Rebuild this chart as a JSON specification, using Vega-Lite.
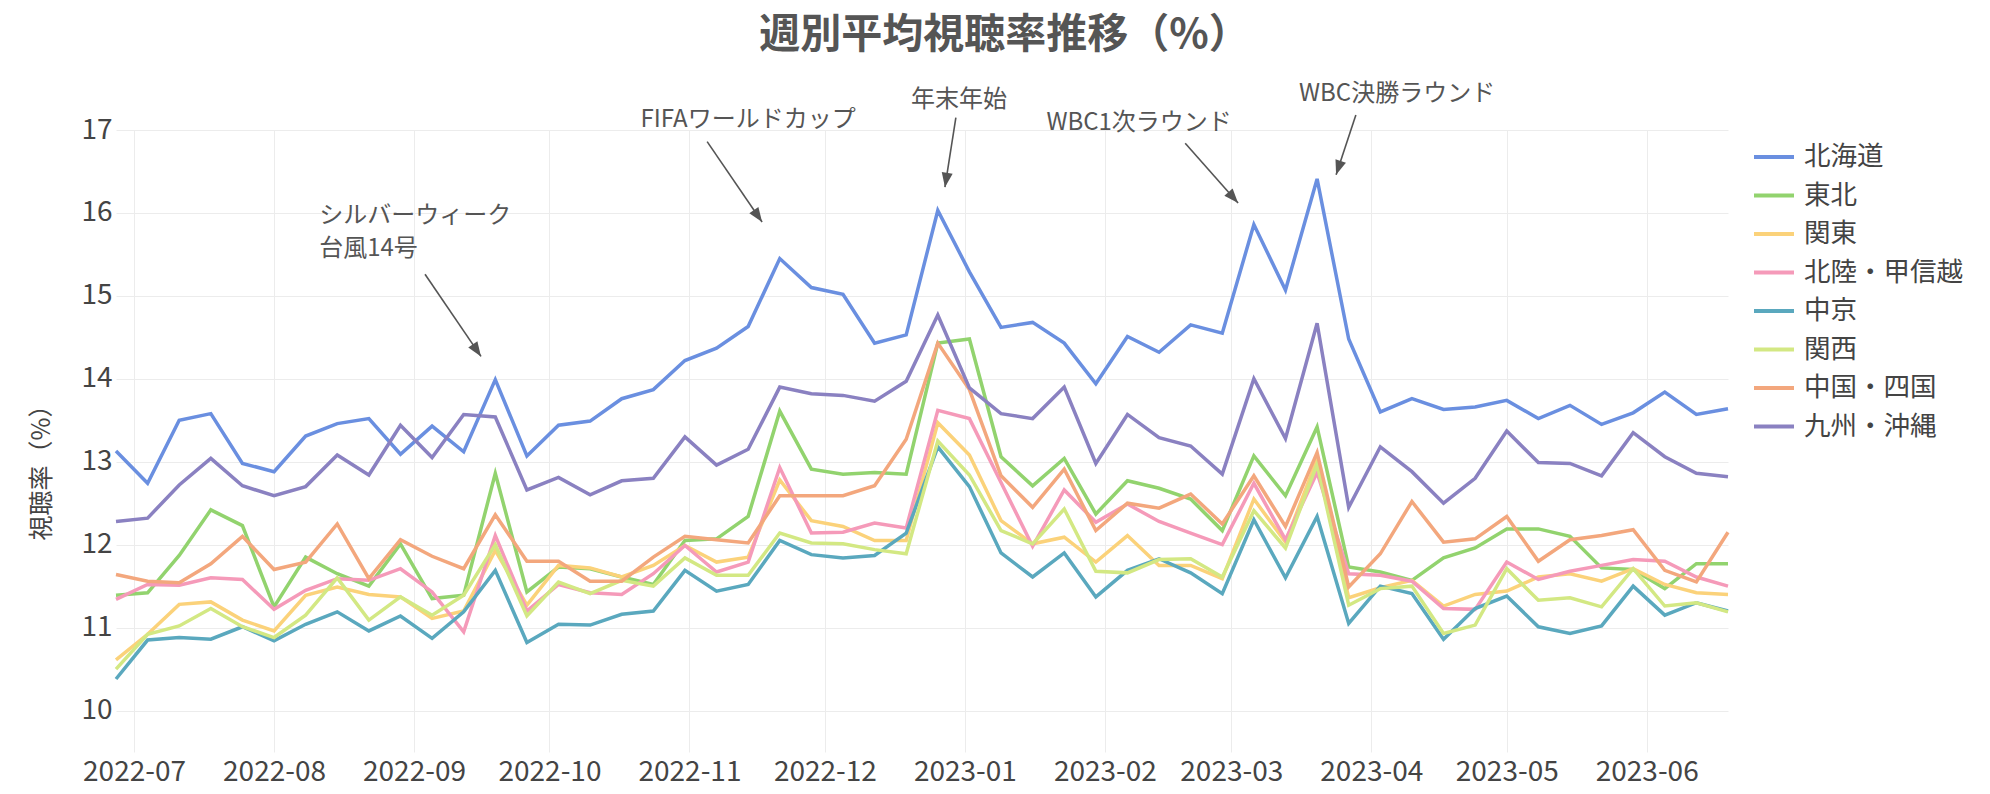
{
  "$schema": "https://vega.github.io/schema/vega-lite/v6.json",
  "autosize": {"type": "none"},
  "padding": {"left": 116, "top": 130, "right": 262, "bottom": 42},
  "width": 1612,
  "height": 622,
  "title": {
    "text": "週別平均視聴率推移（%）",
    "fontSize": 41,
    "fontWeight": "bold",
    "color": "#555555",
    "anchor": "middle",
    "frame": "bounds",
    "offset": 25,
    "dx": 8
  },
  "datasets": {
    "ratings": [
      {"week": "2022-06-27", "region": "北海道", "rating": 13.13},
      {"week": "2022-07-04", "region": "北海道", "rating": 12.74},
      {"week": "2022-07-11", "region": "北海道", "rating": 13.5},
      {"week": "2022-07-18", "region": "北海道", "rating": 13.58},
      {"week": "2022-07-25", "region": "北海道", "rating": 12.98},
      {"week": "2022-08-01", "region": "北海道", "rating": 12.88},
      {"week": "2022-08-08", "region": "北海道", "rating": 13.31},
      {"week": "2022-08-15", "region": "北海道", "rating": 13.46},
      {"week": "2022-08-22", "region": "北海道", "rating": 13.52},
      {"week": "2022-08-29", "region": "北海道", "rating": 13.09},
      {"week": "2022-09-05", "region": "北海道", "rating": 13.43},
      {"week": "2022-09-12", "region": "北海道", "rating": 13.12},
      {"week": "2022-09-19", "region": "北海道", "rating": 13.99},
      {"week": "2022-09-26", "region": "北海道", "rating": 13.07},
      {"week": "2022-10-03", "region": "北海道", "rating": 13.44},
      {"week": "2022-10-10", "region": "北海道", "rating": 13.49},
      {"week": "2022-10-17", "region": "北海道", "rating": 13.76},
      {"week": "2022-10-24", "region": "北海道", "rating": 13.87},
      {"week": "2022-10-31", "region": "北海道", "rating": 14.22},
      {"week": "2022-11-07", "region": "北海道", "rating": 14.37},
      {"week": "2022-11-14", "region": "北海道", "rating": 14.63},
      {"week": "2022-11-21", "region": "北海道", "rating": 15.45},
      {"week": "2022-11-28", "region": "北海道", "rating": 15.1},
      {"week": "2022-12-05", "region": "北海道", "rating": 15.02},
      {"week": "2022-12-12", "region": "北海道", "rating": 14.43},
      {"week": "2022-12-19", "region": "北海道", "rating": 14.53},
      {"week": "2022-12-26", "region": "北海道", "rating": 16.03},
      {"week": "2023-01-02", "region": "北海道", "rating": 15.29},
      {"week": "2023-01-09", "region": "北海道", "rating": 14.62},
      {"week": "2023-01-16", "region": "北海道", "rating": 14.68},
      {"week": "2023-01-23", "region": "北海道", "rating": 14.43},
      {"week": "2023-01-30", "region": "北海道", "rating": 13.94},
      {"week": "2023-02-06", "region": "北海道", "rating": 14.51},
      {"week": "2023-02-13", "region": "北海道", "rating": 14.32},
      {"week": "2023-02-20", "region": "北海道", "rating": 14.65},
      {"week": "2023-02-27", "region": "北海道", "rating": 14.55},
      {"week": "2023-03-06", "region": "北海道", "rating": 15.86},
      {"week": "2023-03-13", "region": "北海道", "rating": 15.07},
      {"week": "2023-03-20", "region": "北海道", "rating": 16.41},
      {"week": "2023-03-27", "region": "北海道", "rating": 14.48},
      {"week": "2023-04-03", "region": "北海道", "rating": 13.6},
      {"week": "2023-04-10", "region": "北海道", "rating": 13.76},
      {"week": "2023-04-17", "region": "北海道", "rating": 13.63},
      {"week": "2023-04-24", "region": "北海道", "rating": 13.66},
      {"week": "2023-05-01", "region": "北海道", "rating": 13.74},
      {"week": "2023-05-08", "region": "北海道", "rating": 13.52},
      {"week": "2023-05-15", "region": "北海道", "rating": 13.68},
      {"week": "2023-05-22", "region": "北海道", "rating": 13.45},
      {"week": "2023-05-29", "region": "北海道", "rating": 13.59},
      {"week": "2023-06-05", "region": "北海道", "rating": 13.84},
      {"week": "2023-06-12", "region": "北海道", "rating": 13.57},
      {"week": "2023-06-19", "region": "北海道", "rating": 13.64},

      {"week": "2022-06-27", "region": "東北", "rating": 11.39},
      {"week": "2022-07-04", "region": "東北", "rating": 11.42},
      {"week": "2022-07-11", "region": "東北", "rating": 11.87},
      {"week": "2022-07-18", "region": "東北", "rating": 12.42},
      {"week": "2022-07-25", "region": "東北", "rating": 12.23},
      {"week": "2022-08-01", "region": "東北", "rating": 11.25},
      {"week": "2022-08-08", "region": "東北", "rating": 11.85},
      {"week": "2022-08-15", "region": "東北", "rating": 11.65},
      {"week": "2022-08-22", "region": "東北", "rating": 11.5},
      {"week": "2022-08-29", "region": "東北", "rating": 12.01},
      {"week": "2022-09-05", "region": "東北", "rating": 11.35},
      {"week": "2022-09-12", "region": "東北", "rating": 11.39},
      {"week": "2022-09-19", "region": "東北", "rating": 12.86},
      {"week": "2022-09-26", "region": "東北", "rating": 11.43},
      {"week": "2022-10-03", "region": "東北", "rating": 11.73},
      {"week": "2022-10-10", "region": "東北", "rating": 11.71},
      {"week": "2022-10-17", "region": "東北", "rating": 11.61},
      {"week": "2022-10-24", "region": "東北", "rating": 11.52},
      {"week": "2022-10-31", "region": "東北", "rating": 12.05},
      {"week": "2022-11-07", "region": "東北", "rating": 12.07},
      {"week": "2022-11-14", "region": "東北", "rating": 12.34},
      {"week": "2022-11-21", "region": "東北", "rating": 13.61},
      {"week": "2022-11-28", "region": "東北", "rating": 12.91},
      {"week": "2022-12-05", "region": "東北", "rating": 12.85},
      {"week": "2022-12-12", "region": "東北", "rating": 12.87},
      {"week": "2022-12-19", "region": "東北", "rating": 12.85},
      {"week": "2022-12-26", "region": "東北", "rating": 14.43},
      {"week": "2023-01-02", "region": "東北", "rating": 14.48},
      {"week": "2023-01-09", "region": "東北", "rating": 13.06},
      {"week": "2023-01-16", "region": "東北", "rating": 12.71},
      {"week": "2023-01-23", "region": "東北", "rating": 13.04},
      {"week": "2023-01-30", "region": "東北", "rating": 12.37},
      {"week": "2023-02-06", "region": "東北", "rating": 12.77},
      {"week": "2023-02-13", "region": "東北", "rating": 12.68},
      {"week": "2023-02-20", "region": "東北", "rating": 12.55},
      {"week": "2023-02-27", "region": "東北", "rating": 12.17},
      {"week": "2023-03-06", "region": "東北", "rating": 13.07},
      {"week": "2023-03-13", "region": "東北", "rating": 12.59},
      {"week": "2023-03-20", "region": "東北", "rating": 13.42},
      {"week": "2023-03-27", "region": "東北", "rating": 11.73},
      {"week": "2023-04-03", "region": "東北", "rating": 11.67},
      {"week": "2023-04-10", "region": "東北", "rating": 11.57},
      {"week": "2023-04-17", "region": "東北", "rating": 11.84},
      {"week": "2023-04-24", "region": "東北", "rating": 11.96},
      {"week": "2023-05-01", "region": "東北", "rating": 12.19},
      {"week": "2023-05-08", "region": "東北", "rating": 12.19},
      {"week": "2023-05-15", "region": "東北", "rating": 12.1},
      {"week": "2023-05-22", "region": "東北", "rating": 11.72},
      {"week": "2023-05-29", "region": "東北", "rating": 11.7},
      {"week": "2023-06-05", "region": "東北", "rating": 11.47},
      {"week": "2023-06-12", "region": "東北", "rating": 11.77},
      {"week": "2023-06-19", "region": "東北", "rating": 11.77},

      {"week": "2022-06-27", "region": "関東", "rating": 10.61},
      {"week": "2022-07-04", "region": "関東", "rating": 10.92},
      {"week": "2022-07-11", "region": "関東", "rating": 11.28},
      {"week": "2022-07-18", "region": "関東", "rating": 11.31},
      {"week": "2022-07-25", "region": "関東", "rating": 11.09},
      {"week": "2022-08-01", "region": "関東", "rating": 10.96},
      {"week": "2022-08-08", "region": "関東", "rating": 11.39},
      {"week": "2022-08-15", "region": "関東", "rating": 11.49},
      {"week": "2022-08-22", "region": "関東", "rating": 11.4},
      {"week": "2022-08-29", "region": "関東", "rating": 11.37},
      {"week": "2022-09-05", "region": "関東", "rating": 11.11},
      {"week": "2022-09-12", "region": "関東", "rating": 11.2},
      {"week": "2022-09-19", "region": "関東", "rating": 11.93},
      {"week": "2022-09-26", "region": "関東", "rating": 11.27},
      {"week": "2022-10-03", "region": "関東", "rating": 11.75},
      {"week": "2022-10-10", "region": "関東", "rating": 11.72},
      {"week": "2022-10-17", "region": "関東", "rating": 11.61},
      {"week": "2022-10-24", "region": "関東", "rating": 11.75},
      {"week": "2022-10-31", "region": "関東", "rating": 11.99},
      {"week": "2022-11-07", "region": "関東", "rating": 11.79},
      {"week": "2022-11-14", "region": "関東", "rating": 11.85},
      {"week": "2022-11-21", "region": "関東", "rating": 12.78},
      {"week": "2022-11-28", "region": "関東", "rating": 12.29},
      {"week": "2022-12-05", "region": "関東", "rating": 12.22},
      {"week": "2022-12-12", "region": "関東", "rating": 12.05},
      {"week": "2022-12-19", "region": "関東", "rating": 12.05},
      {"week": "2022-12-26", "region": "関東", "rating": 13.47},
      {"week": "2023-01-02", "region": "関東", "rating": 13.08},
      {"week": "2023-01-09", "region": "関東", "rating": 12.29},
      {"week": "2023-01-16", "region": "関東", "rating": 12.01},
      {"week": "2023-01-23", "region": "関東", "rating": 12.09},
      {"week": "2023-01-30", "region": "関東", "rating": 11.79},
      {"week": "2023-02-06", "region": "関東", "rating": 12.11},
      {"week": "2023-02-13", "region": "関東", "rating": 11.75},
      {"week": "2023-02-20", "region": "関東", "rating": 11.75},
      {"week": "2023-02-27", "region": "関東", "rating": 11.59},
      {"week": "2023-03-06", "region": "関東", "rating": 12.55},
      {"week": "2023-03-13", "region": "関東", "rating": 12.03},
      {"week": "2023-03-20", "region": "関東", "rating": 13.03},
      {"week": "2023-03-27", "region": "関東", "rating": 11.36},
      {"week": "2023-04-03", "region": "関東", "rating": 11.48},
      {"week": "2023-04-10", "region": "関東", "rating": 11.57},
      {"week": "2023-04-17", "region": "関東", "rating": 11.26},
      {"week": "2023-04-24", "region": "関東", "rating": 11.4},
      {"week": "2023-05-01", "region": "関東", "rating": 11.44},
      {"week": "2023-05-08", "region": "関東", "rating": 11.61},
      {"week": "2023-05-15", "region": "関東", "rating": 11.65},
      {"week": "2023-05-22", "region": "関東", "rating": 11.56},
      {"week": "2023-05-29", "region": "関東", "rating": 11.71},
      {"week": "2023-06-05", "region": "関東", "rating": 11.52},
      {"week": "2023-06-12", "region": "関東", "rating": 11.42},
      {"week": "2023-06-19", "region": "関東", "rating": 11.4},

      {"week": "2022-06-27", "region": "北陸・甲信越", "rating": 11.34},
      {"week": "2022-07-04", "region": "北陸・甲信越", "rating": 11.52},
      {"week": "2022-07-11", "region": "北陸・甲信越", "rating": 11.51},
      {"week": "2022-07-18", "region": "北陸・甲信越", "rating": 11.6},
      {"week": "2022-07-25", "region": "北陸・甲信越", "rating": 11.58},
      {"week": "2022-08-01", "region": "北陸・甲信越", "rating": 11.22},
      {"week": "2022-08-08", "region": "北陸・甲信越", "rating": 11.45},
      {"week": "2022-08-15", "region": "北陸・甲信越", "rating": 11.59},
      {"week": "2022-08-22", "region": "北陸・甲信越", "rating": 11.57},
      {"week": "2022-08-29", "region": "北陸・甲信越", "rating": 11.71},
      {"week": "2022-09-05", "region": "北陸・甲信越", "rating": 11.43},
      {"week": "2022-09-12", "region": "北陸・甲信越", "rating": 10.95},
      {"week": "2022-09-19", "region": "北陸・甲信越", "rating": 12.11},
      {"week": "2022-09-26", "region": "北陸・甲信越", "rating": 11.2},
      {"week": "2022-10-03", "region": "北陸・甲信越", "rating": 11.52},
      {"week": "2022-10-10", "region": "北陸・甲信越", "rating": 11.42},
      {"week": "2022-10-17", "region": "北陸・甲信越", "rating": 11.4},
      {"week": "2022-10-24", "region": "北陸・甲信越", "rating": 11.65},
      {"week": "2022-10-31", "region": "北陸・甲信越", "rating": 11.99},
      {"week": "2022-11-07", "region": "北陸・甲信越", "rating": 11.67},
      {"week": "2022-11-14", "region": "北陸・甲信越", "rating": 11.79},
      {"week": "2022-11-21", "region": "北陸・甲信越", "rating": 12.93},
      {"week": "2022-11-28", "region": "北陸・甲信越", "rating": 12.14},
      {"week": "2022-12-05", "region": "北陸・甲信越", "rating": 12.15},
      {"week": "2022-12-12", "region": "北陸・甲信越", "rating": 12.26},
      {"week": "2022-12-19", "region": "北陸・甲信越", "rating": 12.2},
      {"week": "2022-12-26", "region": "北陸・甲信越", "rating": 13.62},
      {"week": "2023-01-02", "region": "北陸・甲信越", "rating": 13.52},
      {"week": "2023-01-09", "region": "北陸・甲信越", "rating": 12.75},
      {"week": "2023-01-16", "region": "北陸・甲信越", "rating": 11.98},
      {"week": "2023-01-23", "region": "北陸・甲信越", "rating": 12.66},
      {"week": "2023-01-30", "region": "北陸・甲信越", "rating": 12.27},
      {"week": "2023-02-06", "region": "北陸・甲信越", "rating": 12.49},
      {"week": "2023-02-13", "region": "北陸・甲信越", "rating": 12.28},
      {"week": "2023-02-20", "region": "北陸・甲信越", "rating": 12.14},
      {"week": "2023-02-27", "region": "北陸・甲信越", "rating": 12.0},
      {"week": "2023-03-06", "region": "北陸・甲信越", "rating": 12.74},
      {"week": "2023-03-13", "region": "北陸・甲信越", "rating": 12.06},
      {"week": "2023-03-20", "region": "北陸・甲信越", "rating": 12.87},
      {"week": "2023-03-27", "region": "北陸・甲信越", "rating": 11.65},
      {"week": "2023-04-03", "region": "北陸・甲信越", "rating": 11.63},
      {"week": "2023-04-10", "region": "北陸・甲信越", "rating": 11.56},
      {"week": "2023-04-17", "region": "北陸・甲信越", "rating": 11.23},
      {"week": "2023-04-24", "region": "北陸・甲信越", "rating": 11.22},
      {"week": "2023-05-01", "region": "北陸・甲信越", "rating": 11.79},
      {"week": "2023-05-08", "region": "北陸・甲信越", "rating": 11.58},
      {"week": "2023-05-15", "region": "北陸・甲信越", "rating": 11.68},
      {"week": "2023-05-22", "region": "北陸・甲信越", "rating": 11.75},
      {"week": "2023-05-29", "region": "北陸・甲信越", "rating": 11.82},
      {"week": "2023-06-05", "region": "北陸・甲信越", "rating": 11.8},
      {"week": "2023-06-12", "region": "北陸・甲信越", "rating": 11.61},
      {"week": "2023-06-19", "region": "北陸・甲信越", "rating": 11.5},

      {"week": "2022-06-27", "region": "中京", "rating": 10.38},
      {"week": "2022-07-04", "region": "中京", "rating": 10.85},
      {"week": "2022-07-11", "region": "中京", "rating": 10.88},
      {"week": "2022-07-18", "region": "中京", "rating": 10.86},
      {"week": "2022-07-25", "region": "中京", "rating": 11.01},
      {"week": "2022-08-01", "region": "中京", "rating": 10.84},
      {"week": "2022-08-08", "region": "中京", "rating": 11.04},
      {"week": "2022-08-15", "region": "中京", "rating": 11.19},
      {"week": "2022-08-22", "region": "中京", "rating": 10.96},
      {"week": "2022-08-29", "region": "中京", "rating": 11.14},
      {"week": "2022-09-05", "region": "中京", "rating": 10.87},
      {"week": "2022-09-12", "region": "中京", "rating": 11.19},
      {"week": "2022-09-19", "region": "中京", "rating": 11.69},
      {"week": "2022-09-26", "region": "中京", "rating": 10.82},
      {"week": "2022-10-03", "region": "中京", "rating": 11.04},
      {"week": "2022-10-10", "region": "中京", "rating": 11.03},
      {"week": "2022-10-17", "region": "中京", "rating": 11.16},
      {"week": "2022-10-24", "region": "中京", "rating": 11.2},
      {"week": "2022-10-31", "region": "中京", "rating": 11.69},
      {"week": "2022-11-07", "region": "中京", "rating": 11.44},
      {"week": "2022-11-14", "region": "中京", "rating": 11.52},
      {"week": "2022-11-21", "region": "中京", "rating": 12.05},
      {"week": "2022-11-28", "region": "中京", "rating": 11.88},
      {"week": "2022-12-05", "region": "中京", "rating": 11.84},
      {"week": "2022-12-12", "region": "中京", "rating": 11.87},
      {"week": "2022-12-19", "region": "中京", "rating": 12.14},
      {"week": "2022-12-26", "region": "中京", "rating": 13.18},
      {"week": "2023-01-02", "region": "中京", "rating": 12.7},
      {"week": "2023-01-09", "region": "中京", "rating": 11.9},
      {"week": "2023-01-16", "region": "中京", "rating": 11.61},
      {"week": "2023-01-23", "region": "中京", "rating": 11.9},
      {"week": "2023-01-30", "region": "中京", "rating": 11.37},
      {"week": "2023-02-06", "region": "中京", "rating": 11.69},
      {"week": "2023-02-13", "region": "中京", "rating": 11.83},
      {"week": "2023-02-20", "region": "中京", "rating": 11.66},
      {"week": "2023-02-27", "region": "中京", "rating": 11.41},
      {"week": "2023-03-06", "region": "中京", "rating": 12.3},
      {"week": "2023-03-13", "region": "中京", "rating": 11.6},
      {"week": "2023-03-20", "region": "中京", "rating": 12.34},
      {"week": "2023-03-27", "region": "中京", "rating": 11.05},
      {"week": "2023-04-03", "region": "中京", "rating": 11.5},
      {"week": "2023-04-10", "region": "中京", "rating": 11.41},
      {"week": "2023-04-17", "region": "中京", "rating": 10.86},
      {"week": "2023-04-24", "region": "中京", "rating": 11.23},
      {"week": "2023-05-01", "region": "中京", "rating": 11.38},
      {"week": "2023-05-08", "region": "中京", "rating": 11.01},
      {"week": "2023-05-15", "region": "中京", "rating": 10.93},
      {"week": "2023-05-22", "region": "中京", "rating": 11.02},
      {"week": "2023-05-29", "region": "中京", "rating": 11.5},
      {"week": "2023-06-05", "region": "中京", "rating": 11.15},
      {"week": "2023-06-12", "region": "中京", "rating": 11.3},
      {"week": "2023-06-19", "region": "中京", "rating": 11.2},

      {"week": "2022-06-27", "region": "関西", "rating": 10.5},
      {"week": "2022-07-04", "region": "関西", "rating": 10.92},
      {"week": "2022-07-11", "region": "関西", "rating": 11.02},
      {"week": "2022-07-18", "region": "関西", "rating": 11.23},
      {"week": "2022-07-25", "region": "関西", "rating": 11.01},
      {"week": "2022-08-01", "region": "関西", "rating": 10.88},
      {"week": "2022-08-08", "region": "関西", "rating": 11.15},
      {"week": "2022-08-15", "region": "関西", "rating": 11.6},
      {"week": "2022-08-22", "region": "関西", "rating": 11.09},
      {"week": "2022-08-29", "region": "関西", "rating": 11.37},
      {"week": "2022-09-05", "region": "関西", "rating": 11.15},
      {"week": "2022-09-12", "region": "関西", "rating": 11.39},
      {"week": "2022-09-19", "region": "関西", "rating": 12.0},
      {"week": "2022-09-26", "region": "関西", "rating": 11.14},
      {"week": "2022-10-03", "region": "関西", "rating": 11.55},
      {"week": "2022-10-10", "region": "関西", "rating": 11.41},
      {"week": "2022-10-17", "region": "関西", "rating": 11.57},
      {"week": "2022-10-24", "region": "関西", "rating": 11.5},
      {"week": "2022-10-31", "region": "関西", "rating": 11.84},
      {"week": "2022-11-07", "region": "関西", "rating": 11.63},
      {"week": "2022-11-14", "region": "関西", "rating": 11.63},
      {"week": "2022-11-21", "region": "関西", "rating": 12.14},
      {"week": "2022-11-28", "region": "関西", "rating": 12.02},
      {"week": "2022-12-05", "region": "関西", "rating": 12.01},
      {"week": "2022-12-12", "region": "関西", "rating": 11.94},
      {"week": "2022-12-19", "region": "関西", "rating": 11.89},
      {"week": "2022-12-26", "region": "関西", "rating": 13.25},
      {"week": "2023-01-02", "region": "関西", "rating": 12.84},
      {"week": "2023-01-09", "region": "関西", "rating": 12.17},
      {"week": "2023-01-16", "region": "関西", "rating": 12.01},
      {"week": "2023-01-23", "region": "関西", "rating": 12.43},
      {"week": "2023-01-30", "region": "関西", "rating": 11.68},
      {"week": "2023-02-06", "region": "関西", "rating": 11.66},
      {"week": "2023-02-13", "region": "関西", "rating": 11.82},
      {"week": "2023-02-20", "region": "関西", "rating": 11.83},
      {"week": "2023-02-27", "region": "関西", "rating": 11.61},
      {"week": "2023-03-06", "region": "関西", "rating": 12.41},
      {"week": "2023-03-13", "region": "関西", "rating": 11.96},
      {"week": "2023-03-20", "region": "関西", "rating": 12.97},
      {"week": "2023-03-27", "region": "関西", "rating": 11.27},
      {"week": "2023-04-03", "region": "関西", "rating": 11.47},
      {"week": "2023-04-10", "region": "関西", "rating": 11.5},
      {"week": "2023-04-17", "region": "関西", "rating": 10.93},
      {"week": "2023-04-24", "region": "関西", "rating": 11.03},
      {"week": "2023-05-01", "region": "関西", "rating": 11.71},
      {"week": "2023-05-08", "region": "関西", "rating": 11.33},
      {"week": "2023-05-15", "region": "関西", "rating": 11.36},
      {"week": "2023-05-22", "region": "関西", "rating": 11.25},
      {"week": "2023-05-29", "region": "関西", "rating": 11.71},
      {"week": "2023-06-05", "region": "関西", "rating": 11.26},
      {"week": "2023-06-12", "region": "関西", "rating": 11.3},
      {"week": "2023-06-19", "region": "関西", "rating": 11.19},

      {"week": "2022-06-27", "region": "中国・四国", "rating": 11.64},
      {"week": "2022-07-04", "region": "中国・四国", "rating": 11.56},
      {"week": "2022-07-11", "region": "中国・四国", "rating": 11.54},
      {"week": "2022-07-18", "region": "中国・四国", "rating": 11.77},
      {"week": "2022-07-25", "region": "中国・四国", "rating": 12.1},
      {"week": "2022-08-01", "region": "中国・四国", "rating": 11.7},
      {"week": "2022-08-08", "region": "中国・四国", "rating": 11.79},
      {"week": "2022-08-15", "region": "中国・四国", "rating": 12.25},
      {"week": "2022-08-22", "region": "中国・四国", "rating": 11.59},
      {"week": "2022-08-29", "region": "中国・四国", "rating": 12.06},
      {"week": "2022-09-05", "region": "中国・四国", "rating": 11.86},
      {"week": "2022-09-12", "region": "中国・四国", "rating": 11.71},
      {"week": "2022-09-19", "region": "中国・四国", "rating": 12.36},
      {"week": "2022-09-26", "region": "中国・四国", "rating": 11.8},
      {"week": "2022-10-03", "region": "中国・四国", "rating": 11.8},
      {"week": "2022-10-10", "region": "中国・四国", "rating": 11.56},
      {"week": "2022-10-17", "region": "中国・四国", "rating": 11.56},
      {"week": "2022-10-24", "region": "中国・四国", "rating": 11.85},
      {"week": "2022-10-31", "region": "中国・四国", "rating": 12.1},
      {"week": "2022-11-07", "region": "中国・四国", "rating": 12.06},
      {"week": "2022-11-14", "region": "中国・四国", "rating": 12.02},
      {"week": "2022-11-21", "region": "中国・四国", "rating": 12.59},
      {"week": "2022-11-28", "region": "中国・四国", "rating": 12.59},
      {"week": "2022-12-05", "region": "中国・四国", "rating": 12.59},
      {"week": "2022-12-12", "region": "中国・四国", "rating": 12.71},
      {"week": "2022-12-19", "region": "中国・四国", "rating": 13.27},
      {"week": "2022-12-26", "region": "中国・四国", "rating": 14.43},
      {"week": "2023-01-02", "region": "中国・四国", "rating": 13.87},
      {"week": "2023-01-09", "region": "中国・四国", "rating": 12.83},
      {"week": "2023-01-16", "region": "中国・四国", "rating": 12.45},
      {"week": "2023-01-23", "region": "中国・四国", "rating": 12.91},
      {"week": "2023-01-30", "region": "中国・四国", "rating": 12.17},
      {"week": "2023-02-06", "region": "中国・四国", "rating": 12.5},
      {"week": "2023-02-13", "region": "中国・四国", "rating": 12.44},
      {"week": "2023-02-20", "region": "中国・四国", "rating": 12.61},
      {"week": "2023-02-27", "region": "中国・四国", "rating": 12.25},
      {"week": "2023-03-06", "region": "中国・四国", "rating": 12.83},
      {"week": "2023-03-13", "region": "中国・四国", "rating": 12.22},
      {"week": "2023-03-20", "region": "中国・四国", "rating": 13.11},
      {"week": "2023-03-27", "region": "中国・四国", "rating": 11.49},
      {"week": "2023-04-03", "region": "中国・四国", "rating": 11.89},
      {"week": "2023-04-10", "region": "中国・四国", "rating": 12.52},
      {"week": "2023-04-17", "region": "中国・四国", "rating": 12.03},
      {"week": "2023-04-24", "region": "中国・四国", "rating": 12.07},
      {"week": "2023-05-01", "region": "中国・四国", "rating": 12.34},
      {"week": "2023-05-08", "region": "中国・四国", "rating": 11.8},
      {"week": "2023-05-15", "region": "中国・四国", "rating": 12.06},
      {"week": "2023-05-22", "region": "中国・四国", "rating": 12.11},
      {"week": "2023-05-29", "region": "中国・四国", "rating": 12.18},
      {"week": "2023-06-05", "region": "中国・四国", "rating": 11.69},
      {"week": "2023-06-12", "region": "中国・四国", "rating": 11.55},
      {"week": "2023-06-19", "region": "中国・四国", "rating": 12.15},

      {"week": "2022-06-27", "region": "九州・沖縄", "rating": 12.28},
      {"week": "2022-07-04", "region": "九州・沖縄", "rating": 12.32},
      {"week": "2022-07-11", "region": "九州・沖縄", "rating": 12.72},
      {"week": "2022-07-18", "region": "九州・沖縄", "rating": 13.04},
      {"week": "2022-07-25", "region": "九州・沖縄", "rating": 12.71},
      {"week": "2022-08-01", "region": "九州・沖縄", "rating": 12.59},
      {"week": "2022-08-08", "region": "九州・沖縄", "rating": 12.7},
      {"week": "2022-08-15", "region": "九州・沖縄", "rating": 13.08},
      {"week": "2022-08-22", "region": "九州・沖縄", "rating": 12.84},
      {"week": "2022-08-29", "region": "九州・沖縄", "rating": 13.44},
      {"week": "2022-09-05", "region": "九州・沖縄", "rating": 13.05},
      {"week": "2022-09-12", "region": "九州・沖縄", "rating": 13.57},
      {"week": "2022-09-19", "region": "九州・沖縄", "rating": 13.54},
      {"week": "2022-09-26", "region": "九州・沖縄", "rating": 12.66},
      {"week": "2022-10-03", "region": "九州・沖縄", "rating": 12.81},
      {"week": "2022-10-10", "region": "九州・沖縄", "rating": 12.6},
      {"week": "2022-10-17", "region": "九州・沖縄", "rating": 12.77},
      {"week": "2022-10-24", "region": "九州・沖縄", "rating": 12.8},
      {"week": "2022-10-31", "region": "九州・沖縄", "rating": 13.3},
      {"week": "2022-11-07", "region": "九州・沖縄", "rating": 12.96},
      {"week": "2022-11-14", "region": "九州・沖縄", "rating": 13.15},
      {"week": "2022-11-21", "region": "九州・沖縄", "rating": 13.9},
      {"week": "2022-11-28", "region": "九州・沖縄", "rating": 13.82},
      {"week": "2022-12-05", "region": "九州・沖縄", "rating": 13.8},
      {"week": "2022-12-12", "region": "九州・沖縄", "rating": 13.73},
      {"week": "2022-12-19", "region": "九州・沖縄", "rating": 13.97},
      {"week": "2022-12-26", "region": "九州・沖縄", "rating": 14.77},
      {"week": "2023-01-02", "region": "九州・沖縄", "rating": 13.89},
      {"week": "2023-01-09", "region": "九州・沖縄", "rating": 13.58},
      {"week": "2023-01-16", "region": "九州・沖縄", "rating": 13.52},
      {"week": "2023-01-23", "region": "九州・沖縄", "rating": 13.9},
      {"week": "2023-01-30", "region": "九州・沖縄", "rating": 12.98},
      {"week": "2023-02-06", "region": "九州・沖縄", "rating": 13.57},
      {"week": "2023-02-13", "region": "九州・沖縄", "rating": 13.29},
      {"week": "2023-02-20", "region": "九州・沖縄", "rating": 13.19},
      {"week": "2023-02-27", "region": "九州・沖縄", "rating": 12.85},
      {"week": "2023-03-06", "region": "九州・沖縄", "rating": 14.0},
      {"week": "2023-03-13", "region": "九州・沖縄", "rating": 13.28},
      {"week": "2023-03-20", "region": "九州・沖縄", "rating": 14.67},
      {"week": "2023-03-27", "region": "九州・沖縄", "rating": 12.45},
      {"week": "2023-04-03", "region": "九州・沖縄", "rating": 13.18},
      {"week": "2023-04-10", "region": "九州・沖縄", "rating": 12.88},
      {"week": "2023-04-17", "region": "九州・沖縄", "rating": 12.5},
      {"week": "2023-04-24", "region": "九州・沖縄", "rating": 12.8},
      {"week": "2023-05-01", "region": "九州・沖縄", "rating": 13.37},
      {"week": "2023-05-08", "region": "九州・沖縄", "rating": 12.99},
      {"week": "2023-05-15", "region": "九州・沖縄", "rating": 12.98},
      {"week": "2023-05-22", "region": "九州・沖縄", "rating": 12.83},
      {"week": "2023-05-29", "region": "九州・沖縄", "rating": 13.35},
      {"week": "2023-06-05", "region": "九州・沖縄", "rating": 13.06},
      {"week": "2023-06-12", "region": "九州・沖縄", "rating": 12.86},
      {"week": "2023-06-19", "region": "九州・沖縄", "rating": 12.82}
    ],
    "sideNote": [
      {"date": "2022-08-11", "value": 15.96, "note": "シルバーウィーク"},
      {"date": "2022-08-11", "value": 15.57, "note": "台風14号"}
    ],
    "notes": [
      {"date": "2022-11-14", "value": 17.12, "note": "FIFAワールドカップ"},
      {"date": "2022-12-30T17:00Z", "value": 17.36, "note": "年末年始"},
      {"date": "2023-02-08T14:00Z", "value": 17.09, "note": "WBC1次ラウンド"},
      {"date": "2023-04-06T17:00Z", "value": 17.44, "note": "WBC決勝ラウンド"}
    ],
    "arrows": [
      {"id": 1, "from": "2022-09-03T10:30Z", "fromValue": 15.26, "to": "2022-09-15T20:00Z", "toValue": 14.27},
      {"id": 2, "from": "2022-11-04T22:00Z", "fromValue": 16.86, "to": "2022-11-17T02:00Z", "toValue": 15.89},
      {"id": 3, "from": "2022-12-30T00:00Z", "fromValue": 17.15, "to": "2022-12-27T14:00Z", "toValue": 16.31},
      {"id": 4, "from": "2023-02-18T19:00Z", "fromValue": 16.84, "to": "2023-03-02T12:00Z", "toValue": 16.12},
      {"id": 5, "from": "2023-03-28T14:00Z", "fromValue": 17.18, "to": "2023-03-24T05:00Z", "toValue": 16.46}
    ]
  },
  "layer": [
    {
      "data": {"name": "ratings"},
      "mark": {"type": "line", "strokeWidth": 3.5},
      "encoding": {
        "x": {
          "field": "week",
          "type": "temporal",
          "title": null,
          "scale": {
            "type": "utc",
            "domain": [
              {"year": 2022, "month": 6, "date": 27, "utc": true},
              {"year": 2023, "month": 6, "date": 19, "utc": true}
            ],
            "nice": false
          },
          "axis": {
            "format": "%Y-%m",
            "tickCount": {"interval": "month", "step": 1},
            "labelFlush": false,
            "labelOverlap": false,
            "labelPadding": 6
          }
        },
        "y": {
          "field": "rating",
          "type": "quantitative",
          "title": "視聴率（%）",
          "scale": {"domain": [9.5, 17], "nice": false, "zero": false},
          "axis": {
            "values": [10, 11, 12, 13, 14, 15, 16, 17],
            "format": "d",
            "labelPadding": 4,
            "titlePadding": 26,
            "titleY": 336
          }
        },
        "color": {
          "field": "region",
          "type": "nominal",
          "scale": {
            "domain": ["北海道", "東北", "関東", "北陸・甲信越", "中京", "関西", "中国・四国", "九州・沖縄"],
            "range": ["#6a8fe0", "#92d36e", "#fbd27a", "#f59ab9", "#5aa8be", "#d3e883", "#f3a77d", "#8a81c1"]
          },
          "legend": {
            "title": null,
            "orient": "none",
            "legendX": 1636,
            "legendY": 5,
            "padding": 0,
            "rowPadding": 2.5,
            "symbolType": "stroke",
            "symbolSize": 1600,
            "symbolStrokeWidth": 4,
            "labelFontSize": 26.5,
            "labelOffset": 8,
            "labelColor": "#444444"
          }
        }
      }
    },
    {
      "data": {"name": "arrows"},
      "mark": {"type": "rule", "color": "#555555", "strokeWidth": 1.6},
      "encoding": {
        "x": {"field": "from", "type": "temporal"},
        "y": {"field": "fromValue", "type": "quantitative"},
        "x2": {"field": "to"},
        "y2": {"field": "toValue"}
      }
    },
    {
      "data": {"name": "arrows"},
      "transform": [{"filter": "datum.id == 1"}],
      "mark": {"type": "point", "shape": "M0,0L0.38,1L-0.38,1Z", "size": 841, "filled": true, "opacity": 1, "color": "#555555", "angle": 145.7},
      "encoding": {"x": {"field": "to", "type": "temporal"}, "y": {"field": "toValue", "type": "quantitative"}}
    },
    {
      "data": {"name": "arrows"},
      "transform": [{"filter": "datum.id == 2"}],
      "mark": {"type": "point", "shape": "M0,0L0.38,1L-0.38,1Z", "size": 841, "filled": true, "opacity": 1, "color": "#555555", "angle": 145.5},
      "encoding": {"x": {"field": "to", "type": "temporal"}, "y": {"field": "toValue", "type": "quantitative"}}
    },
    {
      "data": {"name": "arrows"},
      "transform": [{"filter": "datum.id == 3"}],
      "mark": {"type": "point", "shape": "M0,0L0.38,1L-0.38,1Z", "size": 841, "filled": true, "opacity": 1, "color": "#555555", "angle": 189},
      "encoding": {"x": {"field": "to", "type": "temporal"}, "y": {"field": "toValue", "type": "quantitative"}}
    },
    {
      "data": {"name": "arrows"},
      "transform": [{"filter": "datum.id == 4"}],
      "mark": {"type": "point", "shape": "M0,0L0.38,1L-0.38,1Z", "size": 841, "filled": true, "opacity": 1, "color": "#555555", "angle": 138.5},
      "encoding": {"x": {"field": "to", "type": "temporal"}, "y": {"field": "toValue", "type": "quantitative"}}
    },
    {
      "data": {"name": "arrows"},
      "transform": [{"filter": "datum.id == 5"}],
      "mark": {"type": "point", "shape": "M0,0L0.38,1L-0.38,1Z", "size": 841, "filled": true, "opacity": 1, "color": "#555555", "angle": 198.5},
      "encoding": {"x": {"field": "to", "type": "temporal"}, "y": {"field": "toValue", "type": "quantitative"}}
    },
    {
      "data": {"name": "sideNote"},
      "mark": {"type": "text", "align": "left", "baseline": "middle", "fontSize": 24, "color": "#555555"},
      "encoding": {
        "x": {"field": "date", "type": "temporal"},
        "y": {"field": "value", "type": "quantitative"},
        "text": {"field": "note"}
      }
    },
    {
      "data": {"name": "notes"},
      "mark": {"type": "text", "align": "center", "baseline": "middle", "fontSize": 24, "color": "#555555"},
      "encoding": {
        "x": {"field": "date", "type": "temporal"},
        "y": {"field": "value", "type": "quantitative"},
        "text": {"field": "note"}
      }
    }
  ],
  "config": {
    "font": "Noto Sans CJK JP",
    "view": {"stroke": null},
    "axis": {
      "domain": false,
      "ticks": false,
      "grid": true,
      "gridColor": "#ececec",
      "gridWidth": 1,
      "labelFontSize": 28,
      "labelColor": "#444444",
      "titleFontSize": 25,
      "titleFontWeight": "normal",
      "titleColor": "#444444"
    }
  }
}
